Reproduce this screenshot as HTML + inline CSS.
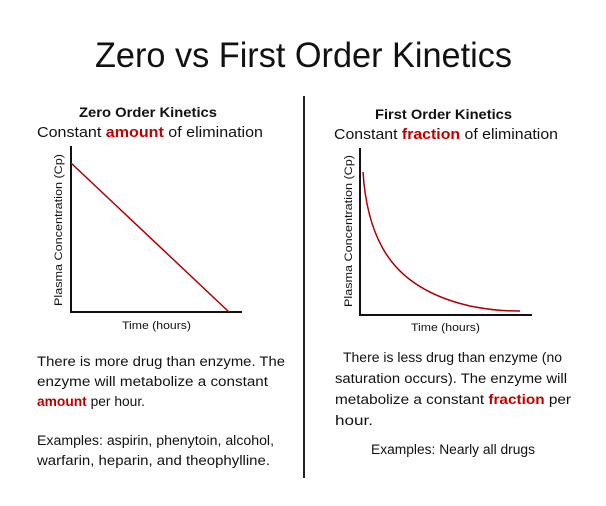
<!DOCTYPE html>
<html><head><style>body{margin:0;background:#fff}svg{display:block}text{font-family:"Liberation Sans",sans-serif;fill:#111}</style></head>
<body>
<svg width="606" height="506" viewBox="0 0 606 506" xmlns="http://www.w3.org/2000/svg">
<rect width="606" height="506" fill="#fff"/>
<text x="95" y="67" font-size="35" textLength="417" lengthAdjust="spacingAndGlyphs">Zero vs First Order Kinetics</text>
<line x1="304" y1="96" x2="304" y2="478" stroke="#222" stroke-width="2"/>
<!-- left -->
<text x="79" y="117" font-size="14" font-weight="bold" textLength="138" lengthAdjust="spacingAndGlyphs">Zero Order Kinetics</text>
<text x="37" y="137" font-size="15" textLength="226" lengthAdjust="spacingAndGlyphs">Constant <tspan font-weight="bold" fill="#c00000" style="fill:#c00000">amount</tspan> of elimination</text>
<polyline points="71,146 71,312 242,312" fill="none" stroke="#111" stroke-width="2"/>
<line x1="71" y1="163" x2="229" y2="312" stroke="#b00000" stroke-width="1.5"/>
<text transform="translate(62,306) rotate(-90)" font-size="11" textLength="152" lengthAdjust="spacingAndGlyphs">Plasma Concentration (Cp)</text>
<text x="122" y="329" font-size="11" textLength="69" lengthAdjust="spacingAndGlyphs">Time (hours)</text>
<g font-size="13.5">
<text x="37" y="366" textLength="248" lengthAdjust="spacingAndGlyphs">There is more drug than enzyme. The</text>
<text x="37" y="386" textLength="231" lengthAdjust="spacingAndGlyphs">enzyme will metabolize a constant</text>
<text x="37" y="406" textLength="108" lengthAdjust="spacingAndGlyphs"><tspan font-weight="bold" style="fill:#c00000">amount</tspan> per hour.</text>
<text x="37" y="445" textLength="237" lengthAdjust="spacingAndGlyphs">Examples: aspirin, phenytoin, alcohol,</text>
<text x="37" y="465" textLength="233" lengthAdjust="spacingAndGlyphs">warfarin, heparin, and theophylline.</text>
</g>
<!-- right -->
<text x="375" y="119" font-size="14" font-weight="bold" textLength="137" lengthAdjust="spacingAndGlyphs">First Order Kinetics</text>
<text x="334" y="139" font-size="15" textLength="224" lengthAdjust="spacingAndGlyphs">Constant <tspan font-weight="bold" style="fill:#c00000">fraction</tspan> of elimination</text>
<polyline points="360,148 360,315 532,315" fill="none" stroke="#111" stroke-width="2"/>
<path d="M363,172 C368,250 400,290 470,306 C495,311 510,311 520,311" fill="none" stroke="#b00000" stroke-width="1.5"/>
<text transform="translate(352,307) rotate(-90)" font-size="11" textLength="152" lengthAdjust="spacingAndGlyphs">Plasma Concentration (Cp)</text>
<text x="411" y="331" font-size="11" textLength="69" lengthAdjust="spacingAndGlyphs">Time (hours)</text>
<g font-size="13.5">
<text x="343" y="362" textLength="219" lengthAdjust="spacingAndGlyphs">There is less drug than enzyme (no</text>
<text x="335" y="383" textLength="232" lengthAdjust="spacingAndGlyphs">saturation occurs). The enzyme will</text>
<text x="335" y="404" textLength="236" lengthAdjust="spacingAndGlyphs">metabolize a constant <tspan font-weight="bold" style="fill:#c00000">fraction</tspan> per</text>
<text x="335" y="425" textLength="38" lengthAdjust="spacingAndGlyphs">hour.</text>
<text x="371" y="454" textLength="164" lengthAdjust="spacingAndGlyphs">Examples: Nearly all drugs</text>
</g>
</svg>
</body></html>
